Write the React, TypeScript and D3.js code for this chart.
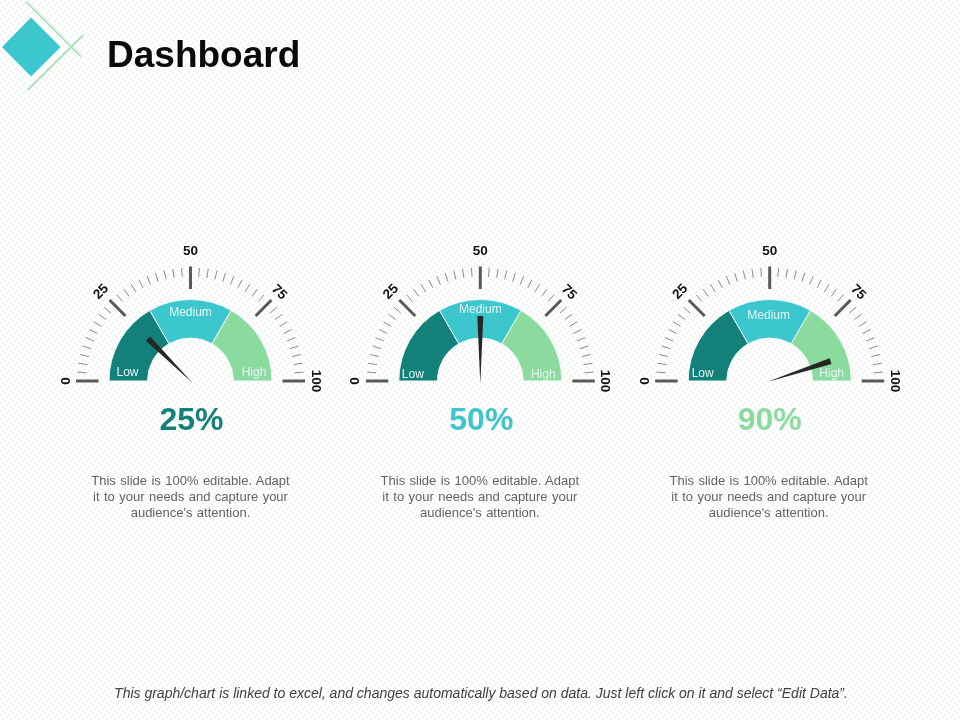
import React from "react";
import * as d3 from "d3";

const bands = ["Low", "Medium", "High"];
const bandShares = [1, 1, 1];
const bandColors = ["#14807a", "#3cc6ce", "#8cdb9e"];
const gaugeValues = [25, 50, 90];
const gaugeLabels = ["25%", "50%", "90%"];
const gaugeColors = ["#14807a", "#3fc5cd", "#8cdb9e"];
const needleLengths = [60, 65, 64];
const majorTicks = [0, 25, 50, 75, 100];
const majorLabelRadius = [125.5, 127, 131, 126, 125.5];
const minorTicks = d3.range(0, 100.01, 2.5);
const descLines = ["This slide is 100% editable. Adapt", "it to your needs and capture your", "audience's attention."];

const centers = [190.5, 480.3, 769.7];
const percentOffsets = [1, 1, 0];
const descOffsets = [0, -0.5, -1];
const baseY = 381;
const FONT = "'Liberation Sans', Arial, sans-serif";

const angle = d3.scaleLinear().domain([0, 100]).range([-Math.PI / 2, Math.PI / 2]);
const pt = (v: number, r: number): [number, number] => [Math.sin(angle(v)) * r, -Math.cos(angle(v)) * r];

const pie = d3.pie<number>().sort(null).startAngle(-Math.PI / 2).endAngle(Math.PI / 2);
const arc = d3.arc<d3.PieArcDatum<number>>().innerRadius(43).outerRadius(81.5);

const bandLabelPos = [
  [[-63, -9], [-67.5, -7], [-67, -8]],
  [[0, -69], [0, -72], [-1, -66]],
  [[63.5, -9], [63, -7], [62, -8]],
];

function Gauge({ cx, value, label, color, idx }: { cx: number; value: number; label: string; color: string; idx: number }) {
  const tip = pt(value, needleLengths[idx]);
  const a = angle(value);
  const w = 3;
  const nx = Math.cos(a) * w, ny = Math.sin(a) * w;
  const needle = `M${tip[0] + nx},${tip[1] + ny}L${tip[0] - nx},${tip[1] - ny}L${Math.sin(a) * -3},${-Math.cos(a) * -3}Z`;
  return (
    <g transform={`translate(${cx},${baseY})`}>
      {minorTicks.filter((t) => !majorTicks.includes(t)).map((t) => {
        const p0 = pt(t, 104.5), p1 = pt(t, 113.5);
        return <line key={t} x1={p0[0]} y1={p0[1]} x2={p1[0]} y2={p1[1]} stroke="#8a8a8a" strokeWidth={1} />;
      })}
      {majorTicks.map((t) => {
        const p0 = pt(t, 92), p1 = pt(t, 114.5);
        return <line key={t} x1={p0[0]} y1={p0[1]} x2={p1[0]} y2={p1[1]} stroke="#595959" strokeWidth={3} />;
      })}
      {majorTicks.map((t, i) => {
        const p = pt(t, majorLabelRadius[i]);
        const deg = (angle(t) * 180) / Math.PI;
        return (
          <text key={t} transform={`translate(${p[0]},${p[1]}) rotate(${deg})`} textAnchor="middle" dominantBaseline="central" fontFamily={FONT} fontWeight="bold" fontSize={13.5} fill="#111">
            {t}
          </text>
        );
      })}
      {pie(bandShares).map((d, i) => (
        <path key={i} d={arc(d) || ""} fill={bandColors[i]} stroke="#e9fbf6" strokeWidth={1} />
      ))}
      {bands.map((b, i) => (
        <text key={b} x={bandLabelPos[i][idx][0]} y={bandLabelPos[i][idx][1]} textAnchor="middle" dominantBaseline="central" fontFamily={FONT} fontSize={12} fill="#e6f8f4">
          {b}
        </text>
      ))}
      <path d={needle} fill="#262626" />
      <text x={percentOffsets[idx]} y={49} textAnchor="middle" fontFamily={FONT} fontWeight="bold" fontSize={32} fill={color}>
        {label}
      </text>
      {descLines.map((l, i) => (
        <text key={i} x={descOffsets[idx]} y={103.5 + i * 16} textAnchor="middle" fontFamily={FONT} fontSize={13} wordSpacing={0.8} fill="#636363">
          {l}
        </text>
      ))}
    </g>
  );
}

export default function App() {
  return (
    <svg width={960} height={720} viewBox="0 0 960 720" style={{ position: "fixed", left: 0, top: 0, display: "block" }}>
      <defs>
        <pattern id="bg" width={8} height={8} patternUnits="userSpaceOnUse">
          <rect width={8} height={8} fill="#fefefe" />
          <path d="M0,4L2,2M4,0L6,2M8,4L6,6M4,8L2,6" fill="none" stroke="#e8eeea" strokeWidth={1} />
        </pattern>
      </defs>
      <rect width={960} height={720} fill="url(#bg)" />
      <path d="M2,47L31,17.5L60.5,47L31,76.5Z" fill="#3cc6ce" />
      <line x1={26} y1={1.7} x2={81} y2={56.7} stroke="#a9e2b8" strokeWidth={1.8} />
      <line x1={27.7} y1={90} x2={83.3} y2={35} stroke="#a9e2b8" strokeWidth={1.8} />
      <text x={107} y={67} fontFamily={FONT} fontWeight="bold" fontSize={37} fill="#0a0a0a">Dashboard</text>
      {gaugeValues.map((v, i) => (
        <Gauge key={i} cx={centers[i]} value={v} label={gaugeLabels[i]} color={gaugeColors[i]} idx={i} />
      ))}
      <text x={481} y={698} textAnchor="middle" fontFamily={FONT} fontStyle="italic" fontSize={14} fill="#404040">
        This graph/chart is linked to excel, and changes automatically based on data. Just left click on it and select “Edit Data”.
      </text>
    </svg>
  );
}
